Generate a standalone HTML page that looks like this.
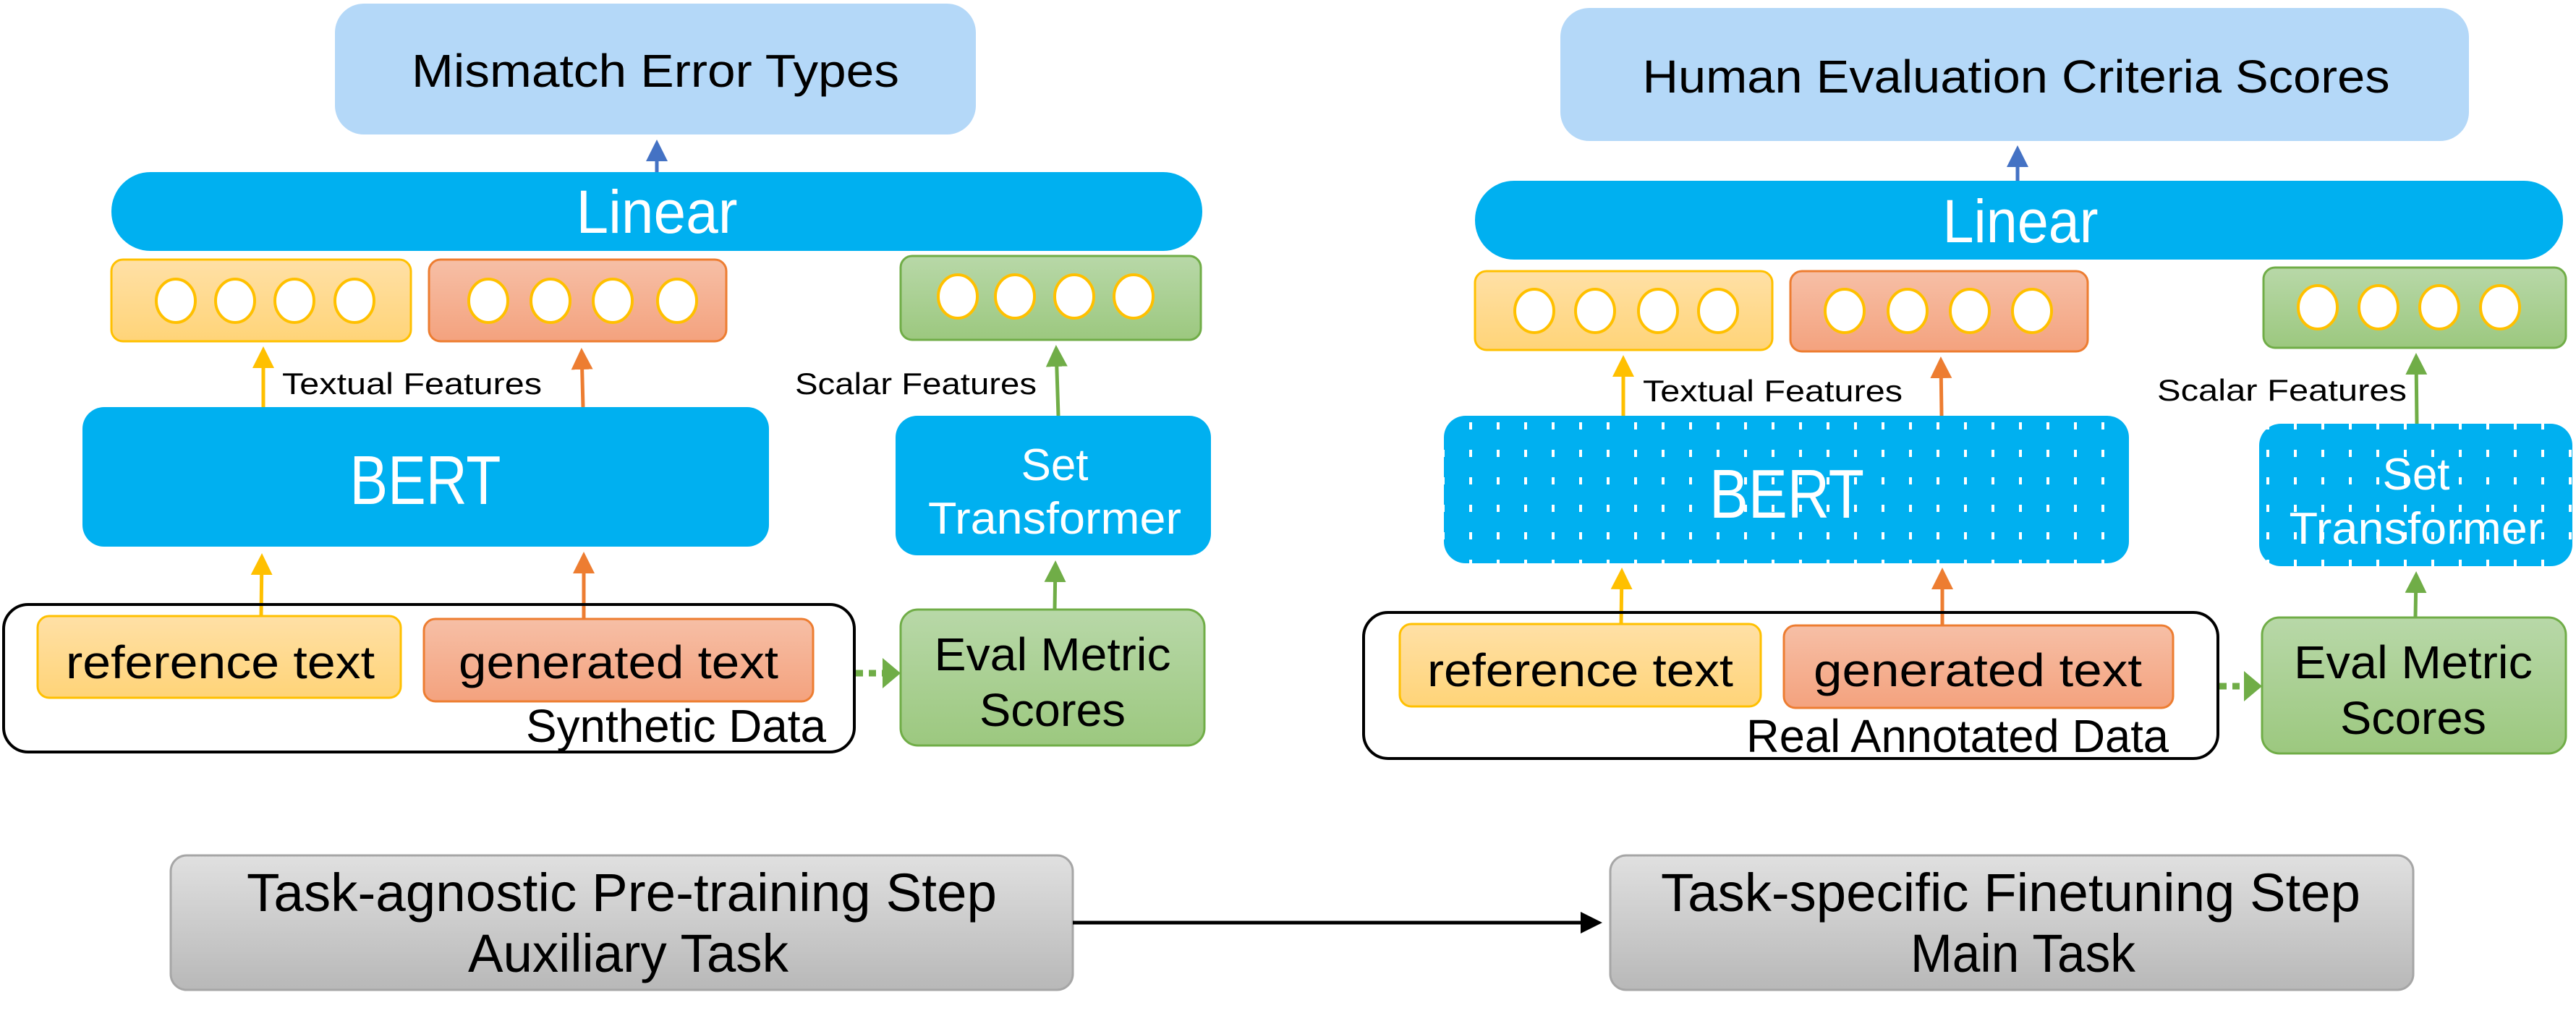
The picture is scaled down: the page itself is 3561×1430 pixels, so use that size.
<!DOCTYPE html>
<html><head><meta charset="utf-8"><style>html,body{margin:0;padding:0;background:#fff}svg{display:block}</style></head><body>
<svg width="3561" height="1430" viewBox="0 0 3561 1430" xmlns="http://www.w3.org/2000/svg" font-family="Liberation Sans, sans-serif">
<defs>
<linearGradient id="gy" x1="0" y1="0" x2="0" y2="1"><stop offset="0" stop-color="#FFE0A6"/><stop offset="1" stop-color="#FFD478"/></linearGradient>
<linearGradient id="go" x1="0" y1="0" x2="0" y2="1"><stop offset="0" stop-color="#F6BFA6"/><stop offset="1" stop-color="#F4A27E"/></linearGradient>
<linearGradient id="gg" x1="0" y1="0" x2="0" y2="1"><stop offset="0" stop-color="#B8D8A8"/><stop offset="1" stop-color="#9CC87F"/></linearGradient>
<linearGradient id="gr" x1="0" y1="0" x2="0" y2="1"><stop offset="0" stop-color="#E0E0E0"/><stop offset="1" stop-color="#B8B8B8"/></linearGradient>
<pattern id="dots" width="38" height="38" patternUnits="userSpaceOnUse"><rect width="38" height="38" fill="#00B0F0"/><rect x="17" y="14" width="4" height="10" fill="#fff"/></pattern>
<marker id="ay" markerWidth="6" markerHeight="6" refX="5" refY="3" orient="auto" markerUnits="strokeWidth"><path d="M0,0 L6,3 L0,6z" fill="#FFC000"/></marker>
<marker id="ao" markerWidth="6" markerHeight="6" refX="5" refY="3" orient="auto" markerUnits="strokeWidth"><path d="M0,0 L6,3 L0,6z" fill="#ED7D31"/></marker>
<marker id="ag" markerWidth="6" markerHeight="6" refX="5" refY="3" orient="auto" markerUnits="strokeWidth"><path d="M0,0 L6,3 L0,6z" fill="#70AD47"/></marker>
<marker id="ab" markerWidth="6" markerHeight="6" refX="5" refY="3" orient="auto" markerUnits="strokeWidth"><path d="M0,0 L6,3 L0,6z" fill="#4472C4"/></marker>
<marker id="ak" markerWidth="6" markerHeight="6" refX="5" refY="3" orient="auto" markerUnits="strokeWidth"><path d="M0,0 L6,3 L0,6z" fill="#000"/></marker>
</defs>

<!-- LEFT -->
<rect x="463" y="5" width="886" height="181" rx="40" fill="#B4D8F8"/>
<text x="906" y="120" font-size="64" text-anchor="middle" textLength="674" lengthAdjust="spacingAndGlyphs">Mismatch Error Types</text>
<line x1="908" y1="238" x2="908" y2="198" stroke="#4472C4" stroke-width="5" marker-end="url(#ab)"/>
<rect x="154" y="238" width="1508" height="109" rx="54" fill="#00B0F0"/>
<text x="908" y="322" font-size="84" fill="#fff" text-anchor="middle" textLength="223" lengthAdjust="spacingAndGlyphs">Linear</text>

<rect x="154" y="359" width="414" height="113" rx="16" fill="url(#gy)" stroke="#FFC000" stroke-width="3"/>
<rect x="593" y="359" width="411" height="113" rx="16" fill="url(#go)" stroke="#ED7D31" stroke-width="3"/>
<rect x="1245" y="354" width="415" height="116" rx="16" fill="url(#gg)" stroke="#70AD47" stroke-width="3"/>
<g fill="#fff" stroke="#FFC000" stroke-width="4">
<ellipse cx="243" cy="416" rx="27" ry="30"/><ellipse cx="325" cy="416" rx="27" ry="30"/><ellipse cx="407" cy="416" rx="27" ry="30"/><ellipse cx="490" cy="416" rx="27" ry="30"/>
<ellipse cx="675" cy="416" rx="27" ry="30"/><ellipse cx="761" cy="416" rx="27" ry="30"/><ellipse cx="847" cy="416" rx="27" ry="30"/><ellipse cx="936" cy="416" rx="27" ry="30"/>
<ellipse cx="1324" cy="410" rx="27" ry="30"/><ellipse cx="1403" cy="410" rx="27" ry="30"/><ellipse cx="1485" cy="410" rx="27" ry="30"/><ellipse cx="1567" cy="410" rx="27" ry="30"/>
</g>
<text x="390" y="545" font-size="42" textLength="359" lengthAdjust="spacingAndGlyphs">Textual Features</text>
<text x="1099" y="545" font-size="42" textLength="334" lengthAdjust="spacingAndGlyphs">Scalar Features</text>
<line x1="364" y1="563" x2="364" y2="484" stroke="#FFC000" stroke-width="5" marker-end="url(#ay)"/>
<line x1="806" y1="563" x2="804" y2="486" stroke="#ED7D31" stroke-width="5" marker-end="url(#ao)"/>
<line x1="1463" y1="575" x2="1460" y2="482" stroke="#70AD47" stroke-width="5" marker-end="url(#ag)"/>

<rect x="114" y="563" width="949" height="193" rx="30" fill="#00B0F0"/>
<text x="588" y="697" font-size="96" fill="#fff" text-anchor="middle" textLength="209" lengthAdjust="spacingAndGlyphs">BERT</text>
<rect x="1238" y="575" width="436" height="193" rx="30" fill="#00B0F0"/>
<text x="1458" y="664" font-size="62" fill="#fff" text-anchor="middle">Set</text>
<text x="1458" y="738" font-size="62" fill="#fff" text-anchor="middle" textLength="350" lengthAdjust="spacingAndGlyphs">Transformer</text>

<line x1="361" y1="852" x2="362" y2="770" stroke="#FFC000" stroke-width="5" marker-end="url(#ay)"/>
<line x1="807" y1="856" x2="807" y2="768" stroke="#ED7D31" stroke-width="5" marker-end="url(#ao)"/>
<line x1="1458" y1="843" x2="1459" y2="780" stroke="#70AD47" stroke-width="5" marker-end="url(#ag)"/>

<rect x="5" y="836" width="1176" height="204" rx="34" fill="none" stroke="#000" stroke-width="4"/>
<rect x="52" y="852" width="502" height="113" rx="16" fill="url(#gy)" stroke="#FFC000" stroke-width="3"/>
<text x="91" y="938" font-size="64" textLength="427" lengthAdjust="spacingAndGlyphs">reference text</text>
<rect x="586" y="856" width="538" height="114" rx="16" fill="url(#go)" stroke="#ED7D31" stroke-width="3"/>
<text x="634" y="938" font-size="64" textLength="442" lengthAdjust="spacingAndGlyphs">generated text</text>
<text x="727" y="1026" font-size="64" textLength="415" lengthAdjust="spacingAndGlyphs">Synthetic Data</text>
<line x1="1183" y1="931" x2="1228" y2="931" stroke="#70AD47" stroke-width="9" stroke-dasharray="10,8"/>
<path d="M1220,910 L1245,931 L1220,952z" fill="#70AD47"/>
<rect x="1245" y="843" width="420" height="188" rx="24" fill="url(#gg)" stroke="#70AD47" stroke-width="3"/>
<text x="1455" y="927" font-size="64" text-anchor="middle" textLength="327" lengthAdjust="spacingAndGlyphs">Eval Metric</text>
<text x="1455" y="1004" font-size="64" text-anchor="middle" textLength="202" lengthAdjust="spacingAndGlyphs">Scores</text>

<!-- RIGHT -->
<rect x="2157" y="11" width="1256" height="184" rx="40" fill="#B4D8F8"/>
<text x="2787" y="128" font-size="64" text-anchor="middle" textLength="1033" lengthAdjust="spacingAndGlyphs">Human Evaluation Criteria Scores</text>
<line x1="2789" y1="250" x2="2789" y2="206" stroke="#4472C4" stroke-width="5" marker-end="url(#ab)"/>
<rect x="2039" y="250" width="1504" height="109" rx="54" fill="#00B0F0"/>
<text x="2793" y="335" font-size="84" fill="#fff" text-anchor="middle" textLength="215" lengthAdjust="spacingAndGlyphs">Linear</text>

<rect x="2039" y="375" width="411" height="109" rx="16" fill="url(#gy)" stroke="#FFC000" stroke-width="3"/>
<rect x="2475" y="375" width="411" height="111" rx="16" fill="url(#go)" stroke="#ED7D31" stroke-width="3"/>
<rect x="3129" y="370" width="418" height="111" rx="16" fill="url(#gg)" stroke="#70AD47" stroke-width="3"/>
<g fill="#fff" stroke="#FFC000" stroke-width="4">
<ellipse cx="2121" cy="430" rx="27" ry="30"/><ellipse cx="2205" cy="430" rx="27" ry="30"/><ellipse cx="2292" cy="430" rx="27" ry="30"/><ellipse cx="2375" cy="430" rx="27" ry="30"/>
<ellipse cx="2550" cy="430" rx="27" ry="30"/><ellipse cx="2637" cy="430" rx="27" ry="30"/><ellipse cx="2723" cy="430" rx="27" ry="30"/><ellipse cx="2809" cy="430" rx="27" ry="30"/>
<ellipse cx="3204" cy="425" rx="27" ry="30"/><ellipse cx="3288" cy="425" rx="27" ry="30"/><ellipse cx="3372" cy="425" rx="27" ry="30"/><ellipse cx="3456" cy="425" rx="27" ry="30"/>
</g>
<text x="2271" y="555" font-size="42" textLength="359" lengthAdjust="spacingAndGlyphs">Textual Features</text>
<text x="2982" y="554" font-size="42" textLength="345" lengthAdjust="spacingAndGlyphs">Scalar Features</text>
<line x1="2244" y1="575" x2="2244" y2="496" stroke="#FFC000" stroke-width="5" marker-end="url(#ay)"/>
<line x1="2684" y1="575" x2="2683" y2="498" stroke="#ED7D31" stroke-width="5" marker-end="url(#ao)"/>
<line x1="3341" y1="586" x2="3340" y2="493" stroke="#70AD47" stroke-width="5" marker-end="url(#ag)"/>

<rect x="1996" y="575" width="947" height="204" rx="30" fill="url(#dots)"/>
<text x="2470" y="716" font-size="96" fill="#fff" text-anchor="middle" textLength="214" lengthAdjust="spacingAndGlyphs">BERT</text>
<rect x="3123" y="586" width="433" height="197" rx="30" fill="url(#dots)"/>
<text x="3340" y="677" font-size="62" fill="#fff" text-anchor="middle">Set</text>
<text x="3340" y="752" font-size="62" fill="#fff" text-anchor="middle" textLength="351" lengthAdjust="spacingAndGlyphs">Transformer</text>

<line x1="2241" y1="863" x2="2242" y2="790" stroke="#FFC000" stroke-width="5" marker-end="url(#ay)"/>
<line x1="2685" y1="865" x2="2685" y2="790" stroke="#ED7D31" stroke-width="5" marker-end="url(#ao)"/>
<line x1="3339" y1="854" x2="3340" y2="795" stroke="#70AD47" stroke-width="5" marker-end="url(#ag)"/>

<rect x="1885" y="847" width="1181" height="202" rx="34" fill="none" stroke="#000" stroke-width="4"/>
<rect x="1935" y="863" width="499" height="114" rx="16" fill="url(#gy)" stroke="#FFC000" stroke-width="3"/>
<text x="1973" y="949" font-size="64" textLength="423" lengthAdjust="spacingAndGlyphs">reference text</text>
<rect x="2466" y="865" width="538" height="114" rx="16" fill="url(#go)" stroke="#ED7D31" stroke-width="3"/>
<text x="2507" y="949" font-size="64" textLength="454" lengthAdjust="spacingAndGlyphs">generated text</text>
<text x="2414" y="1040" font-size="64" textLength="584" lengthAdjust="spacingAndGlyphs">Real Annotated Data</text>
<line x1="3068" y1="949" x2="3110" y2="949" stroke="#70AD47" stroke-width="9" stroke-dasharray="10,8"/>
<path d="M3102,928 L3127,949 L3102,970z" fill="#70AD47"/>
<rect x="3127" y="854" width="420" height="188" rx="24" fill="url(#gg)" stroke="#70AD47" stroke-width="3"/>
<text x="3336" y="938" font-size="64" text-anchor="middle" textLength="330" lengthAdjust="spacingAndGlyphs">Eval Metric</text>
<text x="3336" y="1015" font-size="64" text-anchor="middle" textLength="202" lengthAdjust="spacingAndGlyphs">Scores</text>

<!-- BOTTOM -->
<rect x="236" y="1183" width="1247" height="186" rx="22" fill="url(#gr)" stroke="#A6A6A6" stroke-width="3"/>
<text x="341" y="1260" font-size="74" textLength="1037" lengthAdjust="spacingAndGlyphs">Task-agnostic Pre-training Step</text>
<text x="647" y="1344" font-size="74" textLength="443" lengthAdjust="spacingAndGlyphs">Auxiliary Task</text>
<rect x="2226" y="1183" width="1110" height="186" rx="22" fill="url(#gr)" stroke="#A6A6A6" stroke-width="3"/>
<text x="2296" y="1260" font-size="74" textLength="967" lengthAdjust="spacingAndGlyphs">Task-specific Finetuning Step</text>
<text x="2641" y="1344" font-size="74" textLength="311" lengthAdjust="spacingAndGlyphs">Main Task</text>
<line x1="1483" y1="1276" x2="2210" y2="1276" stroke="#000" stroke-width="5" marker-end="url(#ak)"/>
</svg>
</body></html>
